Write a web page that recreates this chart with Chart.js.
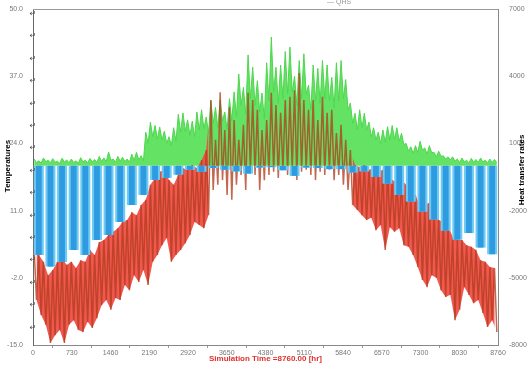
<!DOCTYPE html>
<html>
<head>
<meta charset="utf-8">
<script src="https://cdn.jsdelivr.net/npm/chart.js@4.4.0/dist/chart.umd.min.js"></script>
<style>
  html, body { margin: 0; padding: 0; background: #fff; }
</style>
</head>
<body>
<canvas id="chart" width="530" height="370"></canvas>
<script>
// ---- data ----
const yearHours = 8760;
const timeStep = 730;              // x tick spacing [hr]
const tempMin = -15, tempMax = 50, tempStep = 13;
const rateMin = -8000, rateMax = 7000, rateStep = 3000;

// green heat transfer rate: peak and trough of each ~88 h slice
const greenHi = [300, 220, 350, 250, 320, 200, 340, 260, 300, 220,
                 360, 250, 330, 280, 420, 350, 620, 300, 420, 380,
                 300, 520, 600, 450, 1500, 1950, 1800, 1730, 1550, 1300,
                 1700, 2300, 2360, 2050, 2000, 2400, 2500, 2180, 2900, 2600,
                 2940, 2400, 3000, 3300, 4100, 3500, 4950, 4400, 3800, 3250,
                 4600, 5750, 4400, 4500, 5100, 5300, 4000, 4700, 5000, 3600,
                 4500, 4350, 4700, 4500, 3950, 4600, 4700, 3850, 2800, 2350,
                 2500, 2350, 1950, 1700, 1500, 1600, 1750, 1800, 1700, 1450,
                 1000, 850, 900, 1100, 800, 900, 600, 650, 450, 400,
                 400, 300, 350, 250, 330, 280, 350, 250, 300, 280];
const greenLo = [150, 120, 180, 130, 160, 110, 170, 140, 150, 120,
                 180, 130, 170, 150, 200, 180, 250, 160, 200, 190,
                 160, 240, 260, 220, 1000, 1300, 1200, 1150, 1000, 900,
                 1100, 1500, 1550, 1350, 1300, 1600, 1650, 1450, 1900, 1700,
                 2000, 1600, 2000, 2200, 2700, 2300, 3000, 2700, 2400, 2100,
                 2900, 3300, 2800, 3000, 3200, 3300, 2700, 3000, 3200, 2500,
                 2900, 2800, 3000, 2900, 2600, 2900, 3000, 2500, 1900, 1600,
                 1700, 1600, 1300, 1150, 1000, 1050, 1150, 1200, 1100, 950,
                 650, 550, 600, 700, 520, 580, 400, 420, 300, 260,
                 200, 150, 170, 130, 160, 140, 170, 130, 150, 140];

// blue heat transfer rate: deepest value of each ~219 h block
const blueQ = [-3980, -4500, -4290, -3760, -3980, -3310, -3090, -2510, -1750, -1300,
               -630, -540, -400, -180, -270, -100, -180, -250, -350, -80,
               -60, -200, -450, -80, -100, -150, -150, -300, -250, -500,
               -800, -1300, -1600, -2050, -2400, -2900, -3300, -3000, -3650, -3950];

// red temperature: high / low of each ~88 h slice
const redHi = [3.4, 2.4, 1.1, -1.5, -0.5, 1.1, 1.8, 0.5, 1.1, -0.1,
               1.4, 1.1, 3.4, 2.4, 4.9, 5.3, 6.3, 6.9, 7.6, 8.8,
               9.2, 10.7, 10.1, 12.1, 13.1, 16.0, 17.3, 18.5, 18.9, 16.9,
               16.0, 17.9, 19.2, 18.9, 19.8, 19.2, 20.8, 22.7, 32.4, 24.7,
               33.9, 26.6, 31.0, 28.5, 24.7, 27.6, 33.8, 32.4, 30.5, 26.6,
               28.5, 33.8, 31.4, 29.9, 32.4, 33.0, 34.3, 37.6, 32.4, 30.5,
               32.4, 28.5, 33.0, 29.9, 30.5, 26.0, 27.6, 24.7, 22.7, 19.8,
               19.4, 19.8, 18.9, 19.2, 18.5, 18.9, 18.9, 16.9, 16.5, 16.9,
               16.0, 13.6, 14.0, 11.7, 12.1, 12.5, 11.1, 9.2, 8.8, 8.2,
               5.9, 5.3, 5.3, 4.3, 4.0, 3.4, 1.4, 1.1, 0.1, -0.1];
const redLo = [-6.3, -9.2, -11.1, -14.6, -13.1, -12.1, -14.6, -11.1, -10.2, -12.1,
               -12.5, -10.5, -11.7, -9.8, -7.3, -6.3, -8.2, -5.9, -6.3, -3.4,
               -4.4, -1.5, -2.8, -0.5, -3.4, 1.1, 2.4, 4.3, 5.7, 1.1,
               2.4, 3.4, 4.7, 6.3, 8.8, 8.2, 7.6, 10.1, 15.0, 16.0,
               16.9, 14.0, 13.1, 16.0, 17.9, 15.0, 18.9, 17.9, 15.0, 16.9,
               17.9, 18.5, 17.3, 18.9, 17.9, 19.2, 16.9, 18.5, 18.9, 17.9,
               16.9, 18.5, 17.9, 18.9, 16.9, 17.9, 16.0, 15.0, 12.1, 11.1,
               10.1, 9.2, 9.6, 7.2, 8.2, 3.4, 7.8, 6.9, 7.6, 4.3,
               4.0, 2.4, 0.1, -2.4, -3.8, -1.5, -2.0, -4.4, -5.7, -5.3,
               -10.2, -8.2, -3.8, -5.3, -6.9, -6.3, -8.8, -11.5, -10.2, -12.5];

// ---- build the series for Chart.js ----
// hi value early in a slice, lo value late in it -> hourly swing look
function zigzag(hi, lo) {
    const slice = yearHours / hi.length;
    const pts = [];
    hi.forEach((h, i) => {
        pts.push({ x: (i + 0.25) * slice, y: h });
        pts.push({ x: (i + 0.75) * slice, y: lo[i] });
    });
    return pts;
}
const greenPts = zigzag(greenHi, greenLo);
const redPts = zigzag(redHi, redLo);
const redSlice = yearHours / redHi.length;
const redTop = redHi.map((v, i) => ({ x: (i + 0.25) * redSlice, y: v }));
const redBottom = redLo.map((v, i) => ({ x: (i + 0.75) * redSlice, y: v }));

const blueSlice = yearHours / blueQ.length;
const bluePts = blueQ.map((v, i) => ({ x: (i + 0.5) * blueSlice, y: [v, 0] }));

const tickFont = { family: 'Liberation Sans', size: 7 };
const coldBand = 12.5;   // below this the red band is drawn solid

const decor = {
    id: 'decor',
    afterDraw(chart) {
        const { ctx, chartArea: a, scales } = chart;
        ctx.save();
        // top frame line
        ctx.strokeStyle = '#9a9a9a';
        ctx.lineWidth = 1;
        ctx.beginPath();
        ctx.moveTo(a.left, a.top + 0.5);
        ctx.lineTo(a.right, a.top + 0.5);
        ctx.stroke();

        // little hook markers on the temperature axis
        ctx.fillStyle = '#555';
        ctx.font = '8px "DejaVu Sans"';
        ctx.textAlign = 'center';
        ctx.textBaseline = 'middle';
        for (let k = 0; k < 15; k++) {
            const v = tempMax - k * tempStep / 3;
            ctx.fillText('\u21B5', a.left, scales.y.getPixelForValue(v) + 5);
        }

        // axis titles
        ctx.fillStyle = '#000';
        ctx.font = 'bold 8px "Liberation Sans"';
        ctx.save();
        ctx.translate(8, 166);
        ctx.rotate(-Math.PI / 2);
        ctx.fillText('Temperatures', 0, 0);
        ctx.restore();
        ctx.save();
        ctx.translate(522, 170);
        ctx.rotate(-Math.PI / 2);
        ctx.fillText('Heat transfer rates', 0, 0);
        ctx.restore();

        ctx.fillStyle = '#e0302c';
        ctx.fillText('Simulation Time =8760.00 [hr]', (a.left + a.right) / 2, 359);

        // legend remnant at the top
        ctx.fillStyle = '#999';
        ctx.font = '7px "Liberation Sans"';
        ctx.textAlign = 'left';
        ctx.fillText('\u2014 QHS', 327, 2);
        ctx.restore();
    }
};

new Chart(document.getElementById('chart'), {
    type: 'line',
    data: {
        datasets: [{
            type: 'bar',
            label: 'blue core',
            data: bluePts,
            yAxisID: 'y2',
            backgroundColor: '#2e9be0',
            borderWidth: 0,
            grouped: false,
            barPercentage: 0.5,
            categoryPercentage: 1,
            order: 0
        }, {
            type: 'bar',
            label: 'blue',
            data: bluePts,
            yAxisID: 'y2',
            backgroundColor: '#6ccaf3',
            borderWidth: 0,
            grouped: false,
            barPercentage: 0.86,
            categoryPercentage: 1,
            order: 1
        }, {
            label: 'temperature',
            data: redPts,
            yAxisID: 'y',
            borderColor: 'rgba(178, 62, 30, 0.78)',
            borderWidth: 1.5,
            pointRadius: 0,
            fill: false,
            order: 2
        }, {
            label: 'temperature top',
            data: redTop,
            yAxisID: 'y',
            borderWidth: 0,
            pointRadius: 0,
            fill: false,
            order: 3
        }, {
            label: 'temperature band',
            data: redBottom,
            yAxisID: 'y',
            borderWidth: 0,
            pointRadius: 0,
            fill: '-1',
            backgroundColor: 'rgba(238, 72, 66, 0.9)',
            segment: {
                backgroundColor: c => (c.p0.parsed.y < coldBand && c.p1.parsed.y < coldBand)
                    ? 'rgba(240, 74, 66, 0.92)' : 'rgba(0, 0, 0, 0)'
            },
            order: 3
        }, {
            label: 'QHS',
            data: greenPts,
            yAxisID: 'y2',
            borderColor: '#4ed64e',
            backgroundColor: '#64e264',
            borderWidth: 1,
            pointRadius: 0,
            fill: 'origin',
            order: 4
        }]
    },
    options: {
        responsive: false,
        animation: false,
        layout: { padding: { top: 9, left: 0, right: 0, bottom: 0 } },
        plugins: { legend: { display: false }, tooltip: { enabled: false } },
        scales: {
            x: {
                type: 'linear',
                min: 0,
                max: yearHours,
                offset: false,
                afterFit: s => { s.height = 25; },
                ticks: { stepSize: timeStep, font: tickFont, color: '#777', padding: 1, maxRotation: 0,
                         callback: v => String(v) },
                grid: { drawOnChartArea: false, tickLength: 3, color: '#999' },
                border: { color: '#888' }
            },
            y: {
                position: 'left',
                min: tempMin,
                max: tempMax,
                afterFit: s => { s.width = 33; },
                ticks: { stepSize: tempStep, font: tickFont, color: '#777', padding: 2,
                         callback: v => v.toFixed(1) },
                grid: { display: false },
                border: { color: '#666' }
            },
            y2: {
                position: 'right',
                min: rateMin,
                max: rateMax,
                afterFit: s => { s.width = 32; },
                ticks: { stepSize: rateStep, font: tickFont, color: '#777', padding: 3,
                         callback: v => String(v) },
                grid: { display: false },
                border: { color: '#888' }
            }
        }
    },
    plugins: [decor]
});
</script>
</body>
</html>
